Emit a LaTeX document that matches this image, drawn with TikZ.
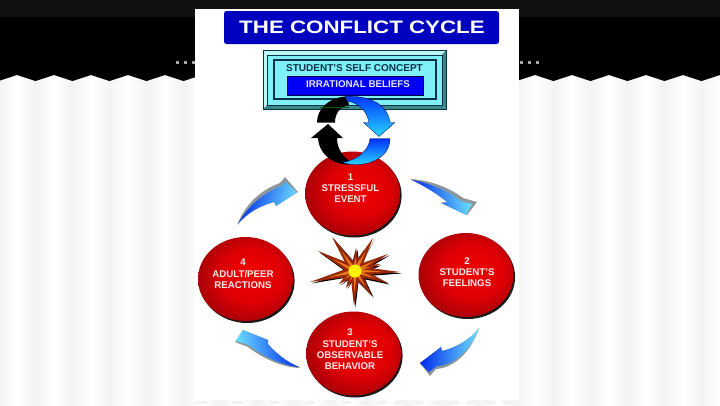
\documentclass[tikz,border=0pt]{standalone}
\usepackage{fontspec}
\setmainfont{Liberation Sans}
\newfontfamily\titlefont[FakeStretch=1.24]{Liberation Sans}
\usetikzlibrary{shapes.geometric,shadows,calc}
\definecolor{rbA}{RGB}{240,0,0}
\definecolor{rbB}{RGB}{222,0,4}
\definecolor{rbC}{RGB}{115,0,12}
\definecolor{faceC}{RGB}{128,240,248}
\definecolor{lightC}{RGB}{190,245,245}
\definecolor{darkC}{RGB}{60,135,135}
\definecolor{lineC}{RGB}{5,50,70}
\definecolor{arrBlue}{RGB}{0,40,235}
\definecolor{arrCyan}{RGB}{110,225,255}
\definecolor{arcBlue}{RGB}{0,50,255}
\definecolor{arcCyan}{RGB}{40,215,255}
\definecolor{shadowG}{RGB}{140,150,155}
\definecolor{bandC}{RGB}{17,17,17}
\definecolor{stripeG}{RGB}{243,243,243}
\definecolor{dotG}{RGB}{165,170,165}
\definecolor{textW}{RGB}{250,235,235}
\definecolor{starB}{RGB}{150,40,10}
\definecolor{starC}{RGB}{235,120,20}
\pgfdeclareradialshading{redball}{\pgfpoint{5bp}{3bp}}{color(0bp)=(rbA);color(16bp)=(rbB);color(39bp)=(rbC);color(50bp)=(rbC)}
\tikzset{
  ballnode/.style={ellipse,minimum width=95pt,minimum height=84pt,inner sep=0pt,shading=redball,
    drop shadow={shadow xshift=1.6pt,shadow yshift=-2pt,opacity=1,fill=black!90}},
  balltext/.style={align=center,text=textW,font=\fontsize{9.7}{11.3}\selectfont\bfseries,inner sep=0pt},
  arcpiece/.style={top color=arcBlue,bottom color=arcCyan,draw=black!70!blue,line width=.3pt},
  darkpiece/.style={fill=black},
  shadowpiece/.style={fill=shadowG},
  spikeA/.style={fill=black},
  spikeB/.style={fill=starB},
  spikeC/.style={fill=starC},
}
\begin{document}
\begin{tikzpicture}[x=1pt,y=-1pt]
\useasboundingbox (0,0) rectangle (720,405);
% striped background
\fill[white] (0,0) rectangle (720,405);
\foreach \k in {-1,...,19}{
  \shade[left color=white,right color=stripeG] ({17+37*\k},70) rectangle ({35.5+37*\k},405);
  \shade[left color=stripeG,right color=white] ({35.5+37*\k},70) rectangle ({54+37*\k},405);
}
% dark top with wavy edge
\fill[black] (-20,0) -- (-20,75) \foreach \k in {-1,...,19}{ -- ({17+37*\k},75) -- ({35.5+37*\k},81) } -- (740,75) -- (740,0) -- cycle;
\fill[bandC] (0,0) rectangle (720,17);
% dots
\foreach \dx in {176,184,192,520,528,536}{ \fill[dotG] (\dx,60.5) rectangle ++(3,3); }
% bottom faint dashes
\draw[black!5,line width=3pt,dash pattern=on 10pt off 8pt] (197,402.5) -- (519,402.5);
% panel
\fill[white] (195,9) rectangle (519,400);
% title
\node[rectangle,rounded corners=2.5pt,fill=blue!75!black,minimum width=275pt,minimum height=33pt,inner sep=0pt] (title) at (361.5,27.5) {};
\node[text=white,font=\titlefont\fontsize{18}{18}\selectfont\bfseries,inner sep=0pt] (titletext) at (362,27.5) {THE CONFLICT CYCLE};
% bevelled box
\fill[lightC] (263,50) -- (446,50) -- (442,55) -- (267,55) -- cycle;
\fill[lightC] (263,50) -- (267,55) -- (267,105) -- (263,109) -- cycle;
\fill[darkC] (446,50) -- (442,55) -- (442,105) -- (446,109) -- cycle;
\fill[darkC] (263,109) -- (267,105) -- (442,105) -- (446,109) -- cycle;
\fill[faceC] (267,55) rectangle (442,105);
\draw[lineC,line width=.7pt] (263,50) rectangle (446,109);
\draw[lineC,line width=.6pt] (267,55) rectangle (442,105);
\node[rectangle,draw=lineC,line width=1.2pt,minimum width=162pt,minimum height=39pt,inner sep=0pt] (frame) at (355,79.5) {};
\node[rectangle,draw=black!70!blue,fill=blue!97!black,line width=1pt,minimum width=136pt,minimum height=19pt,inner sep=0pt] (irr) at (355,85.5) {};
\node[text=lineC,font=\fontsize{10}{10}\selectfont\bfseries,inner sep=0pt] (self) at (354.5,68) {STUDENT'S SELF CONCEPT};
\node[text=white!90!blue,font=\fontsize{9.8}{10}\selectfont\bfseries,inner sep=0pt] (irrtext) at (358,84.5) {IRRATIONAL BELIEFS};
% circles
\node[ballnode] (c1) at (352.5,193.5) {};
\node[ballnode] (c2) at (466,275) {};
\node[ballnode] (c3) at (353.5,353.5) {};
\node[ballnode] (c4) at (245.5,279) {};
\node[balltext] (t1) at (350.5,188) {1\\STRESSFUL\\EVENT};
\node[balltext] (t2) at (467,272) {2\\STUDENT'S\\FEELINGS};
\node[balltext] (t3) at (350,349.5) {3\\STUDENT'S\\OBSERVABLE\\BEHAVIOR};
\node[balltext] (t4) at (243,274) {4\\ADULT/PEER\\REACTIONS};
% circular arrows
\fill[darkpiece] (317,122.5) .. controls (317,108) and (330,97) .. (347,96.5) -- (349,105) .. controls (340,107) and (335,113) .. (335,122.5) -- cycle;
\draw[green!35!black,line width=1.2pt] (320,107.5) -- (349,107.5);
\path[arcpiece] (345,96.5) .. controls (370,95) and (388,105) .. (390,122.5) -- (395,122.5) -- (379,136.5) -- (363.5,122.5) -- (369,122.5) .. controls (367,112) and (360,103) .. (347,101) -- cycle;
\fill[darkpiece] (328,124) -- (343,138) -- (337,138) .. controls (337,148) and (342,157) .. (354,164) .. controls (335,167) and (319,155) .. (318,138) -- (311,138) -- cycle;
\path[arcpiece] (390,138.5) -- (370,138.5) .. controls (369,150) and (358,160) .. (342,162.5) .. controls (352,165.5) and (362,165) .. (370,162.5) .. controls (383,158) and (390,150) .. (390,138.5) -- cycle;
% four blue arrows
\fill[shadowpiece] (237,225) .. controls (245,205) and (260,190) .. (280,183) -- (285,177) -- (298,192) -- (276,206) -- (274,202) .. controls (260,206) and (248,212) .. cycle;
\shade[left color=arrBlue,middle color=arrBlue!75!arrCyan,right color=arrCyan,shading angle=75] (238,224) .. controls (247,207) and (262,194) .. (281,186) -- (286,182) -- (297,192.5) -- (276,206) -- (274,202) .. controls (260,206) and (248,212) .. cycle;
\fill[shadowpiece] (410,179) .. controls (430,180) and (450,188) .. (463,198) -- (477,202) -- (467,215) -- (441,203) -- (447,202) .. controls (435,192) and (422,185) .. cycle;
\shade[left color=arrBlue,middle color=arrBlue!50!arrCyan,right color=arrCyan,shading angle=100] (412,180) .. controls (430,183) and (450,192) .. (461,201) -- (472,204) -- (466,215) -- (441,203) -- (447,202) .. controls (435,192) and (422,185) .. cycle;
\fill[shadowpiece] (479,328) .. controls (470,340) and (455,348) .. (442,351) -- (441,347) -- (420,363) -- (430,376) -- (436,369) .. controls (455,368) and (472,350) .. cycle;
\shade[left color=arrBlue,middle color=arrCyan!70!arrBlue,right color=arrCyan,shading angle=85] (479,328) .. controls (470,340) and (455,348) .. (442,351) -- (441,347) -- (420,363) -- (429,372) -- (437,366) .. controls (455,365.5) and (472,348) .. cycle;
\fill[shadowpiece] (301,368) .. controls (285,362) and (275,352) .. (268,344) -- (268,340) -- (243,330) -- (235,342) -- (248,347) .. controls (265,360) and (285,368) .. cycle;
\shade[left color=arrCyan,middle color=arrCyan!65!arrBlue,right color=arrBlue,shading angle=100] (299,367) .. controls (285,361) and (275,352) .. (268,344) -- (268,340) -- (243,330) -- (235.5,341) -- (249,345) .. controls (265,358) and (285,366) .. cycle;
% star
\coordinate (sc) at (355,271);
\foreach \tx/\ty in {332/237,373/238,318/251,388/254,400/272,310/282,354/306,388/283,356/248,340/264,339/284,372/296,380/264,364/250,345/255,346/288}{
  \fill[spikeA] ($(sc)+(1.5,1.5)!5.5pt!90:(\tx+1.5,\ty+1.5)$) -- (\tx+1.5,\ty+1.5) -- ($(sc)+(1.5,1.5)!5.5pt!-90:(\tx+1.5,\ty+1.5)$) -- cycle;
}
\foreach \tx/\ty in {332/237,373/238,318/251,388/254,400/272,310/282,354/306,388/283,356/248,340/264,339/284,372/296,380/264,364/250,345/255,346/288}{
  \fill[spikeB] ($(sc)!5pt!90:(\tx,\ty)$) -- (\tx,\ty) -- ($(sc)!5pt!-90:(\tx,\ty)$) -- cycle;
}
\foreach \tx/\ty in {332/237,373/238,318/251,388/254,400/272,310/282,354/306,388/283,356/248,340/264,339/284,372/296,380/264,364/250,345/255,346/288}{
  \fill[spikeC] ($(sc)!2pt!90:(\tx,\ty)$) -- ($(sc)!.6!(\tx,\ty)$) -- ($(sc)!2pt!-90:(\tx,\ty)$) -- cycle;
}
\fill[yellow] (sc) circle (6.5pt);
\end{tikzpicture}
\end{document}
